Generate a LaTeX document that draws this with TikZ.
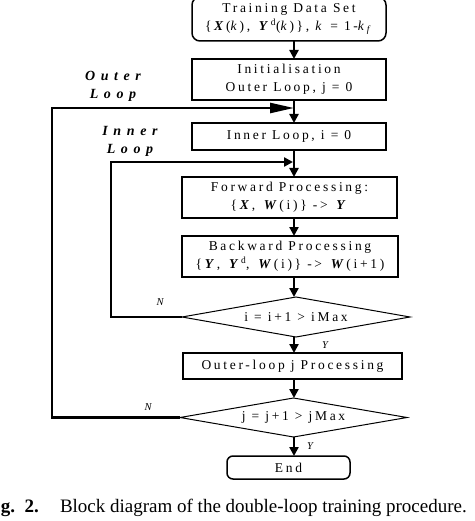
\documentclass[tikz,border=0pt]{standalone}
\usepackage{fontspec}
\setmainfont{Liberation Serif}
\newfontfamily\boxfont[LetterSpace=20]{Liberation Serif}
\newfontfamily\loopfont[LetterSpace=40]{Liberation Serif}
\usetikzlibrary{shapes.geometric,arrows.meta}
\newcommand{\bi}[1]{\textbf{\textit{#1}}}
\begin{document}
\begin{tikzpicture}[x=1pt,y=-1pt,
  every node/.style={inner sep=0pt, outer sep=0pt},
  boxtext/.style={font=\boxfont\fontsize{13.5}{18.5}\selectfont, align=center},
  sbox/.style={draw, line width=1.5pt, boxtext},
  rbox/.style={draw, line width=1.5pt, rounded corners=8pt, boxtext},
  dbox/.style={draw, line width=1pt, diamond, aspect=5.7, boxtext},
  arr/.style={line width=2.5pt, -{Triangle[length=9pt,width=9pt]}},
  looparr/.style={line width=2.5pt, -{Triangle[length=24pt,width=10pt]}},
  loopsmall/.style={line width=2.5pt, -{Triangle[length=9pt,width=9pt]}},
  looplabel/.style={font=\loopfont\fontsize{14}{18}\selectfont\bfseries\itshape, align=center},
  yn/.style={font=\fontsize{10.5}{12}\selectfont\itshape}
]
\useasboundingbox (0,0) rectangle (474,521);
\coordinate (ax) at (294,0);
\coordinate (oL) at (52,0);
\coordinate (iL) at (111,0);
\coordinate (j1) at (294,108);
\coordinate (j2) at (293,162);

\node[rbox, minimum width=194pt, minimum height=44pt] (train) at (289,19)
  {Training Data Set\\ \{\bi{X}(\textit{k}), \bi{Y}\textsuperscript{d}(\textit{k})\}, \textit{k} = 1-\textit{k}\textsubscript{\textit{f}}};
\node[sbox, minimum width=194pt, minimum height=41pt] (init) at (289,79.5)
  {Initialisation\\ Outer Loop, j = 0};
\node[sbox, minimum width=194pt, minimum height=27pt] (inner) at (289,136.5)
  {Inner Loop, i = 0};
\node[sbox, minimum width=215pt, minimum height=41pt] (fwd) at (289.5,197.5)
  {Forward Processing:\\ \{\bi{X}, \bi{W}(i)\} -> \bi{Y}};
\node[sbox, minimum width=216pt, minimum height=41pt] (bwd) at (290,256.5)
  {Backward Processing\\ \{\bi{Y}, \bi{Y}\textsuperscript{d}, \bi{W}(i)\} -> \bi{W}(i+1)};
\node[dbox, minimum width=228pt, minimum height=40pt] (d1) at (296,317)
  {i = i+1 > iMax};
\node[sbox, minimum width=219pt, minimum height=26pt] (jp) at (292.5,366)
  {Outer-loop j Processing};
\node[dbox, minimum width=227pt, minimum height=39pt] (d2) at (293.5,417.5)
  {j = j+1 > jMax};
\node[rbox, rounded corners=6pt, minimum width=123pt, minimum height=23pt] (end) at (288.5,467.5)
  {End};

\draw[arr] (train.south -| ax) -- (init.north -| ax);
\draw[arr] (init.south -| ax) -- (inner.north -| ax);
\draw[arr] (inner.south -| ax) -- (fwd.north -| ax);
\draw[arr] (fwd.south -| ax) -- (bwd.north -| ax);
\draw[arr] (bwd.south -| ax) -- (d1.north -| ax);
\draw[arr] (d1.south -| ax) -- (jp.north -| ax);
\draw[arr] (jp.south -| ax) -- (d2.north -| ax);
\draw[arr] (d2.south -| ax) -- (end.north -| ax);

\draw[looparr] (d2.west) -- (d2.west -| oL) -- (oL |- j1) -- (j1);
\draw[loopsmall] (d1.west) -- (d1.west -| iL) -- (iL |- j2) -- (j2);

\node[looplabel] (ol) at (113,86) {Outer\\Loop};
\node[looplabel] (il) at (130,141) {Inner\\Loop};
\node[yn] (n1) at (160,302) {N};
\node[yn] (n2) at (148,407) {N};
\node[yn] (y1) at (325,345) {Y};
\node[yn] (y2) at (310,446) {Y};

\node[anchor=base west, font=\fontsize{19}{22}\selectfont\bfseries] (cap1) at (1,512) {g.\ \ 2.};
\node[anchor=base west, font=\fontsize{19}{22}\selectfont] (cap2) at (60,512) {Block diagram of the double-loop training procedure.};
\end{tikzpicture}
\end{document}
